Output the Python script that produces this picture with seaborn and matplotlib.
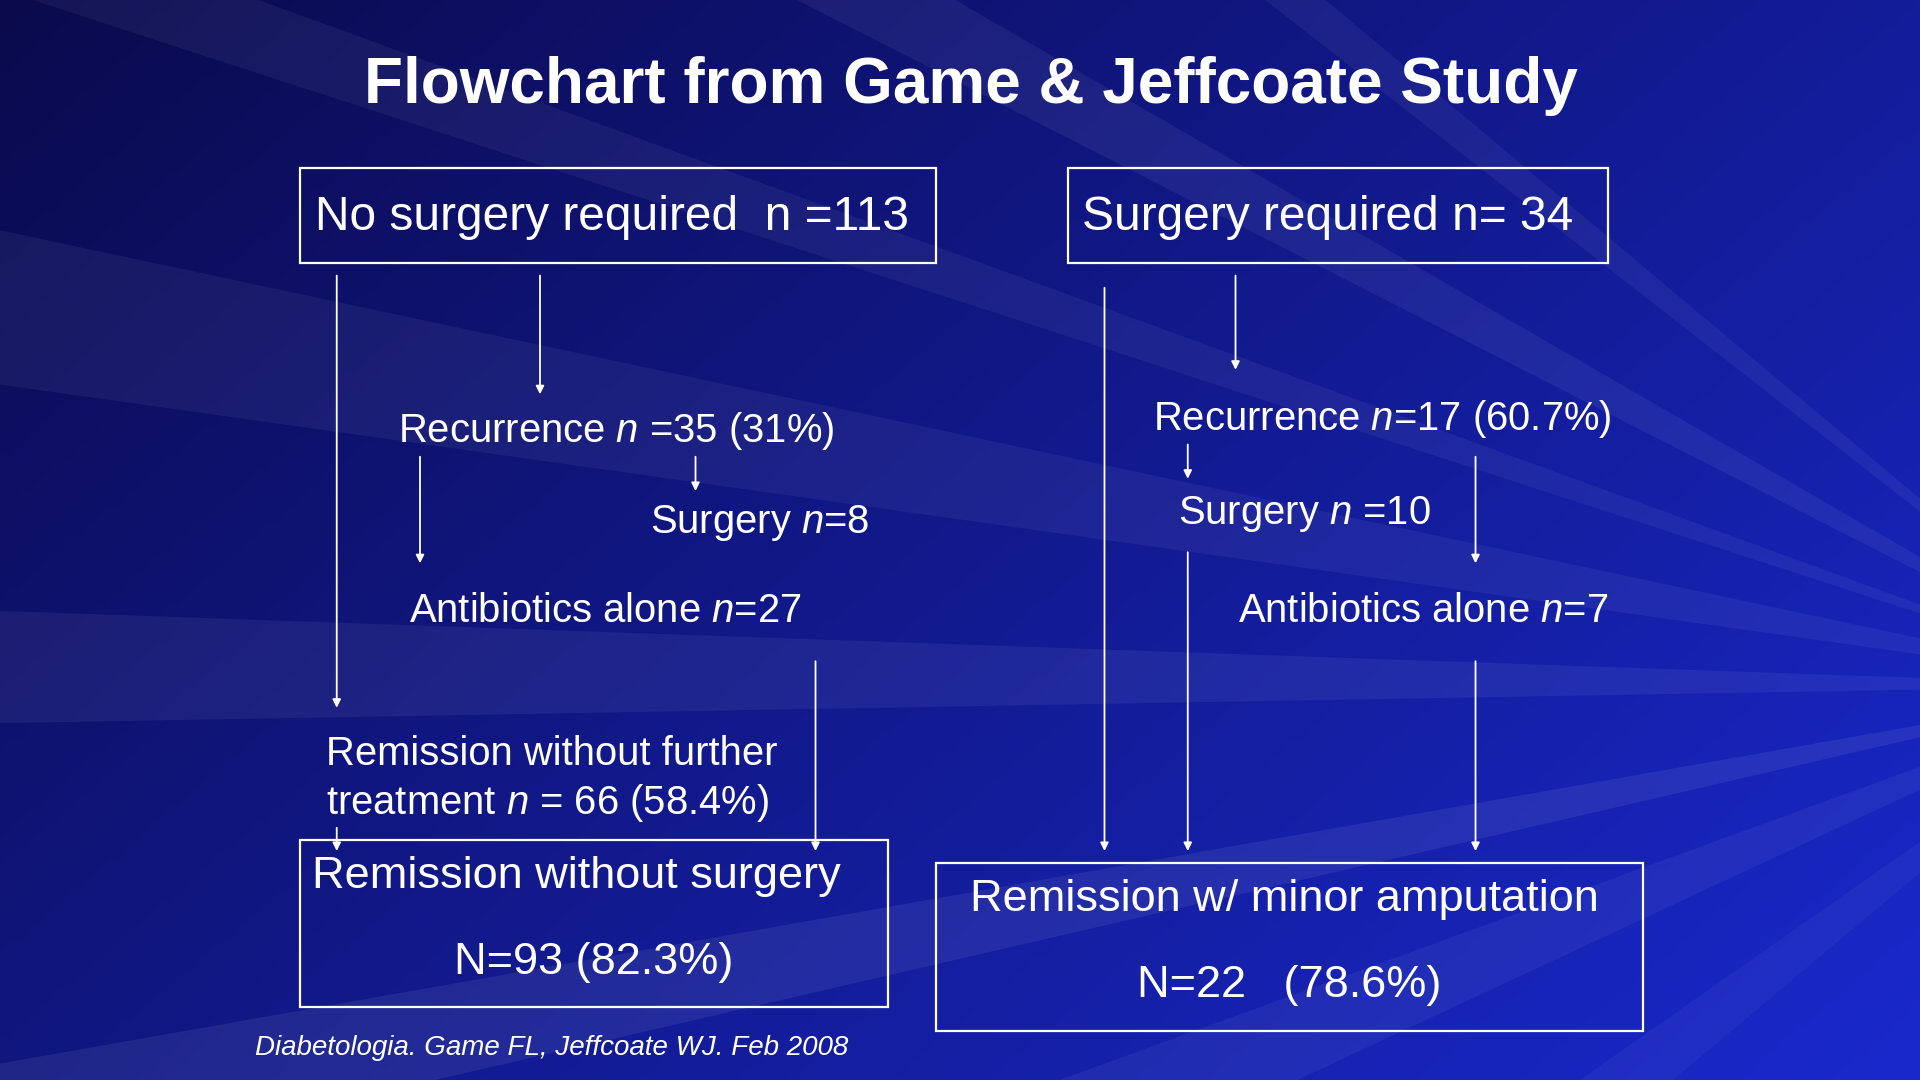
import numpy as np
import matplotlib
matplotlib.use("Agg")
from matplotlib import pyplot as plt
from matplotlib.patches import Rectangle, Polygon
import seaborn as sns

sns.set_style("white")
plt.rcParams['font.family'] = ['Liberation Sans', 'DejaVu Sans']
plt.rcParams['mathtext.fontset'] = 'custom'
plt.rcParams['mathtext.rm'] = 'Liberation Sans'
plt.rcParams['mathtext.it'] = 'Liberation Sans:italic'

title = "Flowchart from Game & Jeffcoate Study"
citation = "Diabetologia. Game FL, Jeffcoate WJ. Feb 2008"

# boxes: label lines, x, y, w, h
box_labels = [["No surgery required  n =113"], ["Surgery required n= 34"],
              ["Remission without surgery", "N=93 (82.3%)"],
              ["Remission w/ minor amputation", "N=22   (78.6%)"]]
box_x = [245, 872, 245, 764]
box_y = [137, 137, 686, 705]
box_w = [519, 441, 480, 578]
box_h = [78, 78, 136, 137]

# free-standing step labels
step_labels = [r"Recurrence $\it{n}$ =35 (31%)", r"Surgery $\it{n}$=8",
               r"Antibiotics alone $\it{n}$=27", "Remission without further",
               r"treatment $\it{n}$ = 66 (58.4%)",
               r"Recurrence $\it{n}$=17 (60.7%)", r"Surgery $\it{n}$ =10",
               r"Antibiotics alone $\it{n}$=7"]
step_x = [325, 531, 334, 266, 266, 942, 962, 1011]
step_y = [350, 425, 497, 614, 654, 340, 418, 497]

# arrows: x, start y, end y
arrow_x = [275, 441, 343, 568, 275, 666, 902, 1009, 970, 1205, 970, 1205]
arrow_y0 = [225, 225, 373, 373, 676, 540, 235, 225, 363, 373, 451, 540]
arrow_y1 = [578, 322, 460, 401, 695, 695, 695, 302, 391, 460, 695, 695]

W, H = 1568, 882
fig = plt.figure(figsize=(19.2, 10.8), dpi=100)
ax = fig.add_axes([0, 0, 1, 1])
ax.set_xlim(0, W)
ax.set_ylim(H, 0)
ax.axis("off")

# background gradient
yy, xx = np.mgrid[0:1:200j, 0:1:360j]
t = np.clip(0.6 * xx + 0.4 * yy, 0, 1)
dark = np.array([0.04, 0.04, 0.30])
light = np.array([0.10, 0.16, 0.80])
img = dark + (light - dark) * t[..., None]
ax.imshow(img, extent=[0, W, H, 0], aspect="auto", zorder=0)

# light rays fanning from the right
cx, cy = 1750, 560
for a0, a1, al in [(150, 153, 0.06), (160, 162, 0.05), (168, 172, 0.05),
                   (178, 181, 0.06), (190, 193, 0.07), (200, 205, 0.05),
                   (140, 142, 0.05), (215, 220, 0.04)]:
    r = 2200
    p = [(cx, cy),
         (cx + r * np.cos(np.radians(a0)), cy - r * np.sin(np.radians(a0))),
         (cx + r * np.cos(np.radians(a1)), cy - r * np.sin(np.radians(a1)))]
    ax.add_patch(Polygon(p, closed=True, color="white", alpha=al, lw=0, zorder=1))

ax.text(793, 70, title, color="white", fontsize=46, fontweight="bold",
        ha="center", va="center", zorder=3)

for lines, x, y, w, h in zip(box_labels, box_x, box_y, box_w, box_h):
    ax.add_patch(Rectangle((x, y), w, h, fill=False, edgecolor="white", lw=1.6, zorder=3))
    if len(lines) == 1:
        ax.text(x + 12, y + h / 2 + 2, lines[0], color="white", fontsize=34.5,
                ha="left", va="center", zorder=3)
    else:
        ax.text(x + 10 if x < 500 else x + 28, y + 30, lines[0], color="white",
                fontsize=32.5, ha="left", va="center", zorder=3)
        ax.text(x + w / 2, y + 100, lines[1], color="white", fontsize=32.5,
                ha="center", va="center", zorder=3)

for lab, x, y in zip(step_labels, step_x, step_y):
    ax.text(x, y + 2, lab, color="white", fontsize=28.8, ha="left", va="center", zorder=3)

for x, y0, y1 in zip(arrow_x, arrow_y0, arrow_y1):
    ax.annotate("", xy=(x, y1), xytext=(x, y0), zorder=3,
                arrowprops=dict(arrowstyle="-|>", color="white", lw=1.3,
                                mutation_scale=12, shrinkA=0, shrinkB=0))

ax.text(208, 856, citation, color="white", fontsize=20, style="italic",
        ha="left", va="center", zorder=3)

fig.savefig("out.png", dpi=100)
